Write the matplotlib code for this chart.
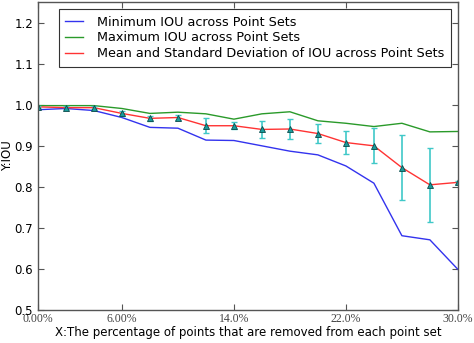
import matplotlib
matplotlib.use("Agg")
import matplotlib.pyplot as plt

removed_pct = [0, 2, 4, 6, 8, 10, 12, 14, 16, 18, 20, 22, 24, 26, 28, 30]
iou_min = [0.988, 0.991, 0.986, 0.969, 0.945, 0.943, 0.914, 0.913, 0.900, 0.887,
           0.878, 0.851, 0.809, 0.681, 0.671, 0.599]
iou_max = [0.998, 0.998, 0.998, 0.991, 0.979, 0.982, 0.978, 0.965, 0.978, 0.983,
           0.961, 0.955, 0.947, 0.955, 0.934, 0.935]
iou_mean = [0.995, 0.993, 0.993, 0.979, 0.967, 0.969, 0.949, 0.949, 0.940, 0.941,
            0.930, 0.908, 0.900, 0.847, 0.805, 0.811]
iou_std = [0.003, 0.004, 0.004, 0.006, 0.006, 0.007, 0.018, 0.008, 0.020, 0.025,
           0.024, 0.028, 0.043, 0.080, 0.090, 0.004]

x_ticks = [0, 6, 14, 22, 30]
x_tick_labels = ['0.00%', '6.00%', '14.0%', '22.0%', '30.0%']
y_ticks = [0.5, 0.6, 0.7, 0.8, 0.9, 1.0, 1.1, 1.2]
y_tick_labels = ['0.5', '0.6', '0.7', '0.8', '0.9', '1.0', '1.1', '1.2']

fig = plt.figure(figsize=(4.74, 3.43), dpi=100)
ax = fig.add_axes([0.080, 0.0962, 0.886, 0.8974])

ax.plot(removed_pct, iou_min, color='#3333ee', lw=1.0, label='Minimum IOU across Point Sets')
ax.plot(removed_pct, iou_max, color='#2a9a2a', lw=1.0, label='Maximum IOU across Point Sets')
ax.plot(removed_pct, iou_mean, color='#ff3333', lw=1.0,
        label='Mean and Standard Deviation of IOU across Point Sets')
ax.errorbar(removed_pct, iou_mean, yerr=iou_std, fmt='none',
            ecolor='#40c8c8', elinewidth=1.2, capsize=2.5, capthick=1.0)
ax.plot(removed_pct, iou_mean, linestyle='none',
        marker='^', markersize=5, markerfacecolor='#1a9a9a', markeredgecolor='#0a4a4a',
        markeredgewidth=0.6)

ax.set_xlim(0, 30)
ax.set_ylim(0.5, 1.25)
ax.set_xticks(x_ticks)
ax.set_xticklabels(x_tick_labels, family='Liberation Serif', fontsize=8.5, color='#444444')
ax.set_yticks(y_ticks)
ax.set_yticklabels(y_tick_labels, fontsize=8.5)
ax.tick_params(direction='in', top=True, right=True, length=4, width=0.8, color='#555555')
ax.tick_params(axis='x', pad=2)
for s in ax.spines.values():
    s.set_color('#555555')
    s.set_linewidth(1.0)

ax.set_xlabel('X:The percentage of points that are removed from each point set', fontsize=8.5, labelpad=1)
ax.set_ylabel('Y:IOU', fontsize=8.5)
ax.yaxis.set_label_coords(-0.058, 0.5)

leg = ax.legend(loc='upper right', fontsize=9.2, fancybox=False, edgecolor='#333333',
                framealpha=1, handlelength=1.4, handletextpad=1.1, borderaxespad=0.55,
                labelspacing=0.22, borderpad=0.5, bbox_to_anchor=(1.0, 1.0))
leg.get_frame().set_linewidth(0.8)

fig.savefig('out.png', dpi=100)
